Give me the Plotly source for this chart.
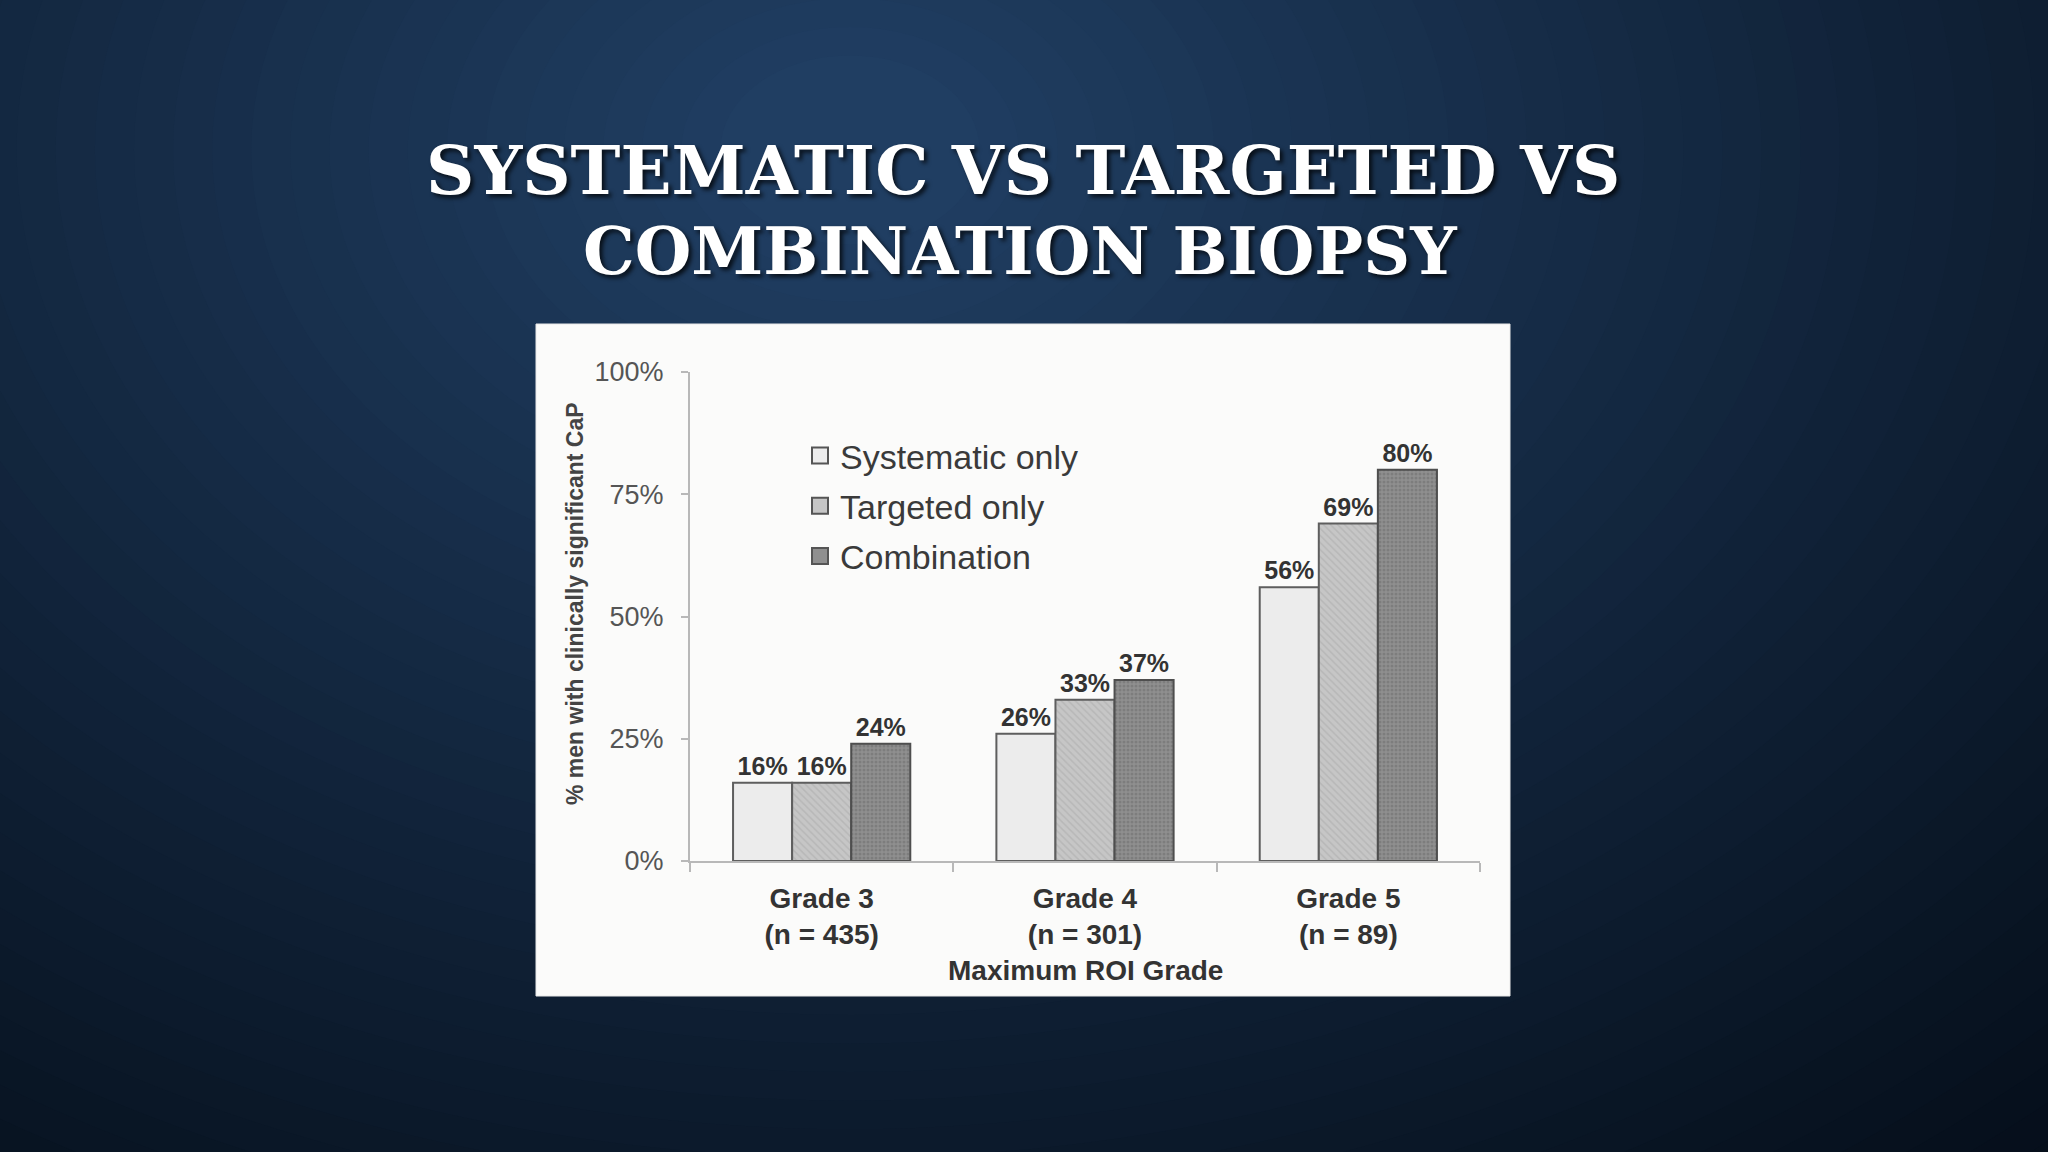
import plotly.graph_objects as go
import numpy as np

# ---------------- data ----------------
categories = ["Grade 3<br>(n = 435)", "Grade 4<br>(n = 301)", "Grade 5<br>(n = 89)"]
series_names = ["Systematic only", "Targeted only", "Combination"]
systematic = [16, 26, 56]
targeted = [16, 33, 69]
combination = [24, 37, 80]
y_tick_vals = [0, 25, 50, 75, 100]
y_tick_text = ["0%", "25%", "50%", "75%", "100%"]
title_line1 = "SYSTEMATIC VS TARGETED VS"
title_line2 = "COMBINATION BIOPSY"
y_title = "% men with clinically significant CaP"
x_title = "Maximum ROI Grade"

# ---------------- geometry (pixels) ----------------
W, H = 2048, 1152
PL, PR, PT, PB = 690, 1480, 372, 861  # plot area edges
pw, ph = PR - PL, PB - PT


def px(x):
    return (x - PL) / pw


def py(y):
    return (PB - y) / ph


FONT = "Liberation Sans, Arial, sans-serif"

styles = [
    dict(color="#ececec", line=dict(color="#5e5e5e", width=2)),
    dict(color="#c6c6c6", line=dict(color="#5e5e5e", width=2),
         pattern=dict(shape="\\", fgcolor="#a8a8a8", size=5, solidity=0.3, fillmode="overlay")),
    dict(color="#8f8f8f", line=dict(color="#4e4e4e", width=2),
         pattern=dict(shape=".", fgcolor="#6c6c6c", size=4, solidity=0.45, fillmode="overlay")),
]
legend_colors = ["#ececec", "#c6c6c6", "#8f8f8f"]

fig = go.Figure()
for name, vals, st in zip(series_names, [systematic, targeted, combination], styles):
    fig.add_trace(go.Bar(
        x=categories, y=vals, name=name, marker=st, showlegend=False,
        texttemplate="%{y}%", textposition="outside", cliponaxis=False,
        constraintext="none",
        textfont=dict(family=FONT, size=25, color="#333333", weight="bold"),
    ))

# legend entries (larger square swatches)
for name, col in zip(series_names, legend_colors):
    fig.add_trace(go.Scatter(
        x=[None], y=[None], mode="markers", name=name, legendgroup=name,
        marker=dict(symbol="square", size=16, color=col, line=dict(color="#555555", width=2)),
    ))

# ---------------- background ----------------
shapes = []
inner = np.array([0x20, 0x3e, 0x62])
outer = np.array([0x06, 0x0f, 0x1b])
cx, cy = 850, 150
RX, RY = 1850, 1350
N = 45
for i in range(N):
    t = i / (N - 1)
    r = 1.0 - t * 0.93
    c = outer + (inner - outer) * (t ** 1.1)
    col = "rgb(%d,%d,%d)" % tuple(int(v) for v in c)
    rx, ry = RX * r, RY * r
    shapes.append(dict(type="circle", xref="paper", yref="paper", layer="below",
                       x0=px(cx - rx), x1=px(cx + rx), y0=py(cy + ry), y1=py(cy - ry),
                       fillcolor=col, line=dict(width=0)))
# white chart panel
shapes.append(dict(type="rect", xref="paper", yref="paper", layer="below",
                   x0=px(536), x1=px(1510), y0=py(996), y1=py(324),
                   fillcolor="#fbfbfa", line=dict(color="#e8e8e8", width=1)))


def title_font(size):
    return dict(family="DejaVu Serif, serif", size=size, color="#ffffff", weight="bold",
                shadow="3px 3px 4px rgba(0,0,0,0.75)")


annotations = [
    dict(text=title_line1, x=px(1023), y=py(170), xref="paper", yref="paper",
         xanchor="center", yanchor="middle", showarrow=False, font=title_font(67)),
    dict(text=title_line2, x=px(1020), y=py(251), xref="paper", yref="paper",
         xanchor="center", yanchor="middle", showarrow=False, font=title_font(65)),
    dict(text=y_title, x=px(575), y=py(604), xref="paper", yref="paper",
         xanchor="center", yanchor="middle", textangle=-90, showarrow=False,
         font=dict(family=FONT, size=23, color="#444444", weight="bold")),
    dict(text=x_title, x=0.5, y=py(970), xref="paper", yref="paper",
         xanchor="center", yanchor="middle", showarrow=False,
         font=dict(family=FONT, size=28, color="#333333", weight="bold")),
]

fig.update_layout(
    width=W, height=H, autosize=False,
    margin=dict(l=PL, r=W - PR, t=PT, b=H - PB, pad=0),
    paper_bgcolor="rgb(6,15,27)", plot_bgcolor="#fbfbfa",
    barmode="group", bargap=0.327, bargroupgap=0,
    shapes=shapes, annotations=annotations,
    showlegend=True,
    legend=dict(x=px(800), y=py(427), xanchor="left", yanchor="top",
                bgcolor="rgba(0,0,0,0)", borderwidth=0,
                font=dict(family=FONT, size=34, color="#3a3a3a"),
                traceorder="grouped", tracegroupgap=3),
    font=dict(family=FONT),
)
fig.update_xaxes(
    type="category", range=[-0.5, 2.5], showgrid=False, zeroline=False,
    showline=True, linecolor="#b8b8b8", linewidth=2,
    ticks="outside", tickson="boundaries", ticklen=9, tickwidth=2, tickcolor="#b8b8b8",
    tickfont=dict(family=FONT, size=28, color="#333333", weight="bold"),
    ticklabelstandoff=11,
)
fig.update_yaxes(
    range=[0, 100], tickvals=y_tick_vals, ticktext=y_tick_text,
    showgrid=False, zeroline=False,
    showline=True, linecolor="#b8b8b8", linewidth=2,
    ticks="outside", ticklen=7, tickwidth=2, tickcolor="#b8b8b8",
    tickfont=dict(family=FONT, size=27, color="#555555"),
    ticklabelstandoff=12,
)

fig.write_html("out.html")
